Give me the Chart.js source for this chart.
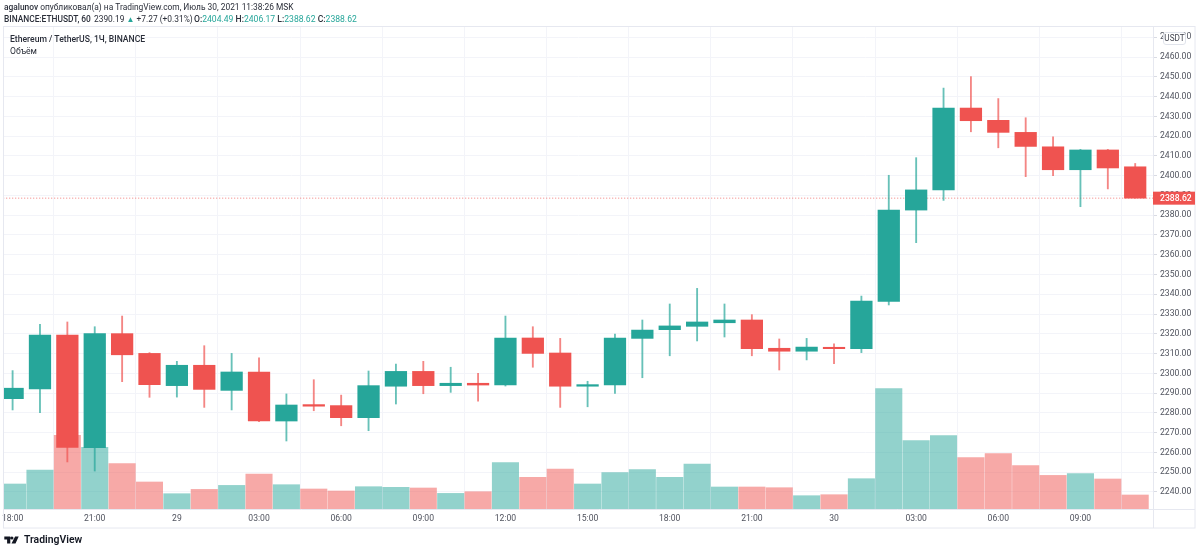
<!DOCTYPE html>
<html>
<head>
<meta charset="utf-8">
<title>ETHUSDT</title>
<script src="https://cdn.jsdelivr.net/npm/chart.js@4/dist/chart.umd.min.js"></script>
<style>
  html, body { margin: 0; padding: 0; background: #fff; }
  body { width: 1200px; height: 552px; position: relative; overflow: hidden; font-family: Roboto, sans-serif; color: #2a2e39; }
  canvas { position: absolute; left: 0; top: 0; }
  .txt { position: absolute; white-space: nowrap; font-size: 8.6px; line-height: 11px; }
  .txt b { font-weight: 500; }
  .val { color: #26a69a; }
  .tri { font-size: 8px; color: #26a69a; }
  #usdt { position: absolute; left: 1163px; top: 32px; width: 23px; height: 13px; box-sizing: border-box; border: 1px solid #e0e3eb; border-radius: 3px; background: #fff; font-size: 8.2px; line-height: 11px; text-align: center; color: #434651; }
  #logo { position: absolute; left: 4px; top: 536px; }
  #brand { position: absolute; left: 24px; top: 533px; font-size: 10.4px; line-height: 14px; font-weight: 600; color: #131722; }
</style>
</head>
<body>
<canvas id="chart" width="1200" height="552"></canvas>
<div class="txt" style="left:4px;top:2px;font-size:8.4px"><b>agalunov</b> опубликовал(а) на TradingView.com, Июль 30, 2021 11:38:26 MSK</div>
<div class="txt" style="left:4px;top:14px;font-size:8.4px"><b>BINANCE:ETHUSDT, 60</b></div>
<div class="txt" style="left:94px;top:14px;font-size:8.4px">2390.19 <span class="tri">▲</span> +7.27 (+0.31%)</div>
<div class="txt" style="left:194px;top:14px"><b>O:</b><span class="val">2404.49</span> <b>H:</b><span class="val">2406.17</span> <b>L:</b><span class="val">2388.62</span> <b>C:</b><span class="val">2388.62</span></div>
<div class="txt" style="left:10px;top:34px"><b>Ethereum / TetherUS, 1Ч, BINANCE</b></div>
<div class="txt" style="left:10px;top:46px">Объём</div>
<div id="usdt">USDT</div>
<svg id="logo" width="15" height="8" viewBox="0 0 36 20"><path fill="#131722" d="M0 1h15v18H7V9H0zM19 1a4 4 0 1 1 0 8 4 4 0 0 1 0-8zM27 1h9l-8 18h-10z"/></svg>
<div id="brand">TradingView</div>
<script>
// hourly candles, 28 Jul 18:00 -> 30 Jul 11:00
const opens = [2287.2,2292.2,2319.4,2262.4,2320.1,2310.1,2293.8,2304.1,2291.4,2300.7,2275.9,2284.2,2283.7,2277.6,2293.5,2301,2293.8,2295,2294.1,2317.9,2310.3,2293.5,2294.1,2317.7,2322.1,2323.8,2325.6,2327,2312.7,2311.2,2313.2,2312.5,2336.4,2382.6,2392.8,2434.2,2428,2421.9,2414.6,2403,2413,2404.49]
const closes = [2292.5,2319.4,2262.6,2320.1,2309.4,2294.3,2304.1,2291.9,2300.7,2275.9,2284,2283.4,2277.6,2293.8,2301,2293.8,2295,2294.1,2317.9,2310.1,2293.5,2294.3,2317.9,2321.9,2324,2326,2327,2312.5,2311.2,2313.3,2312.5,2336.6,2382.6,2392.8,2434.2,2427.8,2421.9,2414.8,2403,2413,2403.9,2388.62]
const highs = [2301.4,2324.8,2326,2323.6,2329,2310.5,2306.1,2314,2310.1,2307.8,2289.6,2296.8,2289,2301.2,2304.7,2306.1,2303.1,2300,2329,2323.6,2317.7,2296,2319.9,2327,2335.1,2343,2335.1,2329.7,2317.4,2317.7,2315,2339.1,2400.2,2409.1,2444.3,2450.1,2439,2429.3,2419.7,2413.3,2413.3,2406.17]
const lows = [2281.5,2280.1,2255.2,2250.6,2295.8,2287.9,2288,2282.8,2281.5,2275.6,2265.8,2281.1,2273.5,2271,2284.5,2289.7,2290.4,2285.9,2293.6,2303.1,2282.8,2283.1,2289.9,2297.8,2308.9,2316.4,2318.4,2308.9,2301.7,2306.8,2304.9,2310.5,2334.6,2366.1,2387.5,2422.2,2414.1,2399.5,2400,2384.3,2393.3,2388.62]
const volumes = [2500,3900,7360,6160,4530,2700,1530,1960,2360,3500,2430,2000,1800,2230,2170,2100,1560,1730,4630,3170,4000,2500,3630,3930,3170,4500,2200,2200,2130,1330,1430,3030,12030,6830,7330,5130,5530,4330,3360,3530,3000,1400]

const xTickPositions = [0,3,6,9,12,15,18,21,24,27,30,33,36,39]
const xTickLabels = ['18:00','21:00','29','03:00','06:00','09:00','12:00','15:00','18:00','21:00','30','03:00','06:00','09:00']
const yTickValues = [2240,2250,2260,2270,2280,2290,2300,2310,2320,2330,2340,2350,2360,2370,2380,2390,2400,2410,2420,2430,2440,2450,2460,2470]
const lastPrice = 2388.62

const GREEN = '#26a69a'
const RED = '#ef5350'
const GRID = '#f3f4f9'
const LINE = '#e6e8f0'

const isUp = opens.map((o, i) => closes[i] >= o)
const candleColors = isUp.map(u => u ? GREEN : RED)
const volumeColors = isUp.map(u => u ? 'rgba(38,166,154,0.5)' : 'rgba(239,83,80,0.5)')
const wickColors = isUp.map(u => u ? 'rgba(38,166,154,0.7)' : 'rgba(239,83,80,0.7)')

const priceMarker = {
  id: 'priceMarker',
  afterDraw(chart) {
    const c = chart.ctx
    const area = chart.chartArea
    const y = chart.scales.y.getPixelForValue(lastPrice)
    c.save()
    c.strokeStyle = LINE
    c.lineWidth = 1
    c.strokeRect(area.left - 0.5, area.top - 0.5, 1195.5 - area.left, 528.5 - area.top)
    c.beginPath()
    c.moveTo(area.right + 0.5, area.top)
    c.lineTo(area.right + 0.5, 528)
    c.moveTo(area.left, area.bottom + 0.5)
    c.lineTo(1195, area.bottom + 0.5)
    c.stroke()
    c.fillStyle = RED
    c.fillRect(area.right, y - 6.5, 42, 13)
    c.fillStyle = '#fff'
    c.font = '500 8.6px Roboto'
    c.textBaseline = 'middle'
    c.fillText(lastPrice.toFixed(2), area.right + 7, y + 0.5)
    c.restore()
  }
}

new Chart(document.getElementById('chart'), {
  data: {
    datasets: [
      {
        type: 'line',
        data: [{ x: -1, y: lastPrice }, { x: 43, y: lastPrice }],
        borderColor: 'rgba(239,83,80,0.75)',
        borderWidth: 1,
        borderDash: [1, 2],
        pointRadius: 0,
        yAxisID: 'y',
        order: 4
      },
      {
        type: 'bar',
        data: volumes.map((v, i) => ({ x: i, y: v })),
        backgroundColor: volumeColors,
        barThickness: 26.4,
        grouped: false,
        yAxisID: 'y1',
        order: 3
      },
      {
        type: 'bar',
        data: highs.map((h, i) => ({ x: i, y: [lows[i], h] })),
        backgroundColor: wickColors,
        barThickness: 1.2,
        grouped: false,
        yAxisID: 'y',
        order: 2
      },
      {
        type: 'bar',
        data: opens.map((o, i) => ({ x: i, y: [o, closes[i]] })),
        backgroundColor: candleColors,
        borderColor: candleColors,
        barThickness: 21.6,
        grouped: false,
        yAxisID: 'y',
        order: 1
      }
    ]
  },
  options: {
    responsive: false,
    animation: false,
    layout: { autoPadding: false, padding: { left: 4, top: 27, right: 5, bottom: 24 } },
    plugins: { legend: { display: false }, tooltip: { enabled: false } },
    scales: {
      x: {
        type: 'linear',
        min: -0.314,
        max: 41.65,
        offset: false,
        afterBuildTicks(scale) { scale.ticks = xTickPositions.map(v => ({ value: v })) },
        afterFit(scale) {
          scale.height = 19
          // first label sticks out past the plot, don't let it push the area in
          scale.paddingLeft = 0
          scale.paddingRight = 0
        },
        grid: { color: GRID, drawTicks: false, lineWidth: 1 },
        border: { display: false },
        ticks: {
          autoSkip: false,
          maxRotation: 0,
          padding: 5,
          color: '#50535e',
          font: { family: 'Roboto', size: 8.6 },
          callback: v => xTickLabels[xTickPositions.indexOf(v)]
        }
      },
      y: {
        position: 'right',
        min: 2231.4,
        max: 2475.2,
        afterBuildTicks(scale) { scale.ticks = yTickValues.map(v => ({ value: v })) },
        afterFit(scale) {
          scale.width = 42
          scale.paddingTop = 0
          scale.paddingBottom = 0
        },
        grid: { color: GRID, tickColor: '#d9dbe3', tickLength: 4, lineWidth: 1 },
        border: { display: false },
        ticks: {
          padding: 3,
          color: '#50535e',
          font: { family: 'Roboto', size: 8.6 },
          callback: v => v.toFixed(2)
        }
      },
      y1: { display: false, min: 0, max: 48200 }
    }
  },
  plugins: [priceMarker]
})
</script>
</body>
</html>
